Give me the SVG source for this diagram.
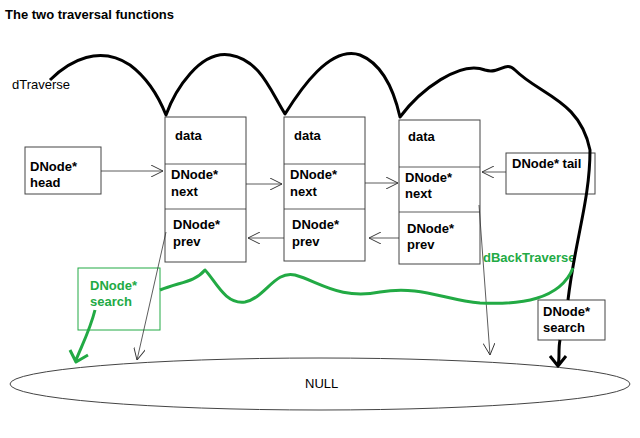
<svg xmlns="http://www.w3.org/2000/svg" width="640" height="438" viewBox="0 0 640 438">
<style>
text{font-family:"Liberation Sans",Arial,sans-serif;font-size:13px;font-weight:bold;fill:#000}
.b{fill:#fff;stroke:#444;stroke-width:1}
.c{fill:none;stroke:#333;stroke-width:0.8}
.g{fill:#22aa44}
</style>
<defs><marker id="a" viewBox="0 0 10 10" refX="10" refY="5" markerWidth="12" markerHeight="12" orient="auto" markerUnits="userSpaceOnUse"><path d="M0,0 L10,5 L0,10" fill="none" stroke="#333" stroke-width="0.8"/></marker></defs>
<rect width="640" height="438" fill="#fff"/>
<text x="5" y="19">The two traversal functions</text>
<text x="12" y="89" style="font-weight:normal">dTraverse</text>
<ellipse id="null" cx="320" cy="384" rx="310" ry="26" class="b"/>
<text x="305" y="388" style="font-weight:normal">NULL</text>
<g id="n1"><rect class="b" x="165" y="117" width="81" height="145"/><line class="c" x1="165" y1="164" x2="246" y2="164"/><line class="c" x1="165" y1="209" x2="246" y2="209"/><text x="175" y="140">data</text><text x="171" y="179">DNode*</text><text x="171" y="196">next</text><text x="173" y="229">DNode*</text><text x="173" y="246">prev</text></g>
<g id="n2"><rect class="b" x="284" y="117" width="81" height="144"/><line class="c" x1="284" y1="164" x2="365" y2="164"/><line class="c" x1="284" y1="209" x2="365" y2="209"/><text x="294" y="140">data</text><text x="290" y="179">DNode*</text><text x="290" y="196">next</text><text x="292" y="229">DNode*</text><text x="292" y="246">prev</text></g>
<g id="n3"><rect class="b" x="399" y="120" width="81" height="144"/><line class="c" x1="399" y1="167" x2="480" y2="167"/><line class="c" x1="399" y1="212" x2="480" y2="212"/><text x="408" y="141">data</text><text x="405" y="182">DNode*</text><text x="405" y="198">next</text><text x="407" y="233">DNode*</text><text x="407" y="249">prev</text></g>
<g id="head"><rect class="b" x="25" y="147" width="76" height="47"/><text x="30" y="171">DNode*</text><text x="30" y="187">head</text></g>
<g id="tail"><rect class="b" x="506" y="153" width="89" height="41"/><text x="512" y="168">DNode* tail</text></g>
<g id="search1"><rect x="78" y="268" width="82" height="62" fill="#fff" stroke="#22aa44"/><text class="g" x="90" y="290">DNode*</text><text class="g" x="90" y="306">search</text></g>
<g id="search2"><rect class="b" x="538" y="300" width="67" height="40"/><text x="543" y="316">DNode*</text><text x="543" y="332">search</text></g>
<text class="g" x="483" y="262">dBackTraverse</text>
<g id="connectors">
<line class="c" x1="101" y1="171" x2="163" y2="171" marker-end="url(#a)"/>
<line class="c" x1="246" y1="184" x2="282" y2="184" marker-end="url(#a)"/>
<line class="c" x1="365" y1="183" x2="398" y2="183" marker-end="url(#a)"/>
<line class="c" x1="506" y1="172" x2="482" y2="172" marker-end="url(#a)"/>
<line class="c" x1="284" y1="238" x2="248" y2="238" marker-end="url(#a)"/>
<line class="c" x1="399" y1="238" x2="369" y2="238" marker-end="url(#a)"/>
<line class="c" x1="166" y1="232" x2="137" y2="360" marker-end="url(#a)"/>
<line class="c" x1="479" y1="205" x2="490" y2="355" marker-end="url(#a)"/>
<path d="M50,80 C70,60 100,45 130,65 C150,80 160,100 166,115 C175,90 200,50 230,55 C260,60 270,90 285,114 C300,90 330,45 360,55 C385,65 395,95 400,117 C420,90 460,60 485,70 C500,75 505,60 515,70 C540,95 580,100 590,150 C590,200 575,240 568,300 M560,340 C558,350 560,358 558,365 M550,356 L558,366 L566,356" fill="none" stroke="#000" stroke-width="3" stroke-linejoin="round"/>
<path d="M160,290 C180,282 195,282 205,270 C215,280 225,305 245,302 C265,298 275,270 295,275 C320,282 340,300 380,292 C420,285 445,300 480,303 C520,305 560,300 573,268 M95,310 C90,330 82,345 76,360 M70,350 L76,362 L88,355" fill="none" stroke="#22aa44" stroke-width="3" stroke-linejoin="round"/>
</g>
</svg>
